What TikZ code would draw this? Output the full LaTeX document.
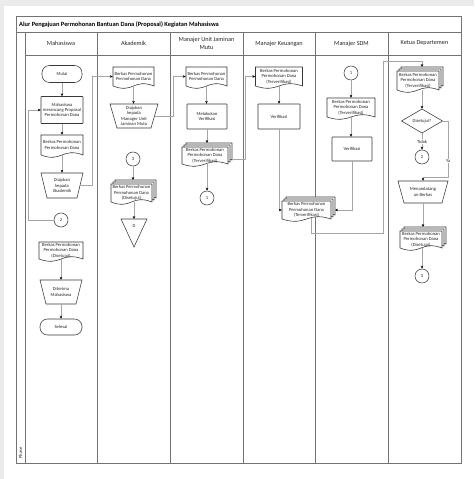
\documentclass[tikz,border=0pt]{standalone}
\usepackage{fontspec}
\setmainfont{Carlito}
\usetikzlibrary{arrows.meta,calc}
\tikzset{
  shp/.style={draw=black!78, line width=0.55pt, fill=white},
  conn/.style={draw=black!35, line width=0.5pt, -{Stealth[length=3pt,width=2.6pt,black]}},
  lane/.style={draw=black!55, line width=0.8pt},
  txt/.style={font=\fontsize{4.6}{5.4}\selectfont, align=center, inner sep=0pt, text=black!85},
  hdr/.style={font=\fontsize{6.2}{8}\selectfont, align=center, inner sep=0pt, text=black!85},
  lbl/.style={txt, fill=white, inner sep=0.6pt},
  termbox/.style={shp, txt, rounded corners=7.5pt},
  circbox/.style={shp, txt, circle, minimum size=14pt},
}
% single document shape
\newcommand\fcdocpath[4]{\draw[shp] ({#1-#3/2},{#2-#4/2}) -- ({#1+#3/2},{#2-#4/2}) -- ({#1+#3/2},{#2+#4/2}) .. controls ({#1},{#2+#4/2-8}) and ({#1},{#2+#4/2+8}) .. ({#1-#3/2},{#2+#4/2}) -- cycle;}
% document node: name, cx, cy, w, h, text
\newcommand\fcdoc[6]{\fcdocpath{#2}{#3}{#4}{#5}
  \node[txt, minimum width=#4pt, minimum height=#5pt] (#1) at (#2,#3) {#6};}
% multi document node
\newcommand\fcmdoc[6]{\fcdocpath{#2+4}{#3-4}{#4}{#5}\fcdocpath{#2+2}{#3-2}{#4}{#5}\fcdocpath{#2}{#3}{#4}{#5}
  \node[txt, minimum width=#4pt, minimum height=#5pt] (#1) at (#2,#3) {#6};
  \coordinate (#1-top) at ({#2+4},{#3-#5/2-4});
  \coordinate (#1-right) at ({#2+#4/2+4},{#3});}
% process box: name, cx, cy, w, h, text
\newcommand\fcproc[6]{\draw[shp, rounded corners=0.4pt] ({#2-#4/2},{#3-#5/2}) -- ({#2+#4/2},{#3-#5/2}) -- ({#2+#4/2},{#3+#5/2}) -- ({#2-#4/2},{#3+#5/2}) -- cycle;
  \node[txt, minimum width=#4pt, minimum height=#5pt] (#1) at (#2,#3) {#6};}
% manual operation: name, cx, cy, w, h, inset, text
\newcommand\fcman[7]{\draw[shp] ({#2-#4/2},{#3-#5/2}) -- ({#2+#4/2},{#3-#5/2}) -- ({#2+#4/2-#6},{#3+#5/2}) -- ({#2-#4/2+#6},{#3+#5/2}) -- cycle;
  \node[txt, minimum width=#4pt, minimum height=#5pt] (#1) at (#2,#3) {#7};}
% decision: name, cx, cy, w, h, text
\newcommand\fcdec[6]{\draw[shp] ({#2},{#3-#5/2}) -- ({#2+#4/2},{#3}) -- ({#2},{#3+#5/2}) -- ({#2-#4/2},{#3}) -- cycle;
  \node[txt, minimum width=#4pt, minimum height=#5pt] (#1) at (#2,#3) {#6};}
\begin{document}
\begin{tikzpicture}[x=1pt,y=-1pt]
\useasboundingbox (0,0) rectangle (474,479);
\fill[white] (0,0) rectangle (474,479);
\fill[black!8] (0,0) rectangle (474,6);
\fill[black!8] (0,0) rectangle (4,479);
% frame and lanes
\draw[lane] (16,16) rectangle (461,463);
\draw[lane] (16,32) -- (461,32);
\draw[lane] (25,32) -- (25,463);
\draw[lane] (25,55) -- (461,55);
\foreach \xx in {97,170,243,315,388} \draw[lane] (\xx,32) -- (\xx,463);
\node[font=\bfseries\fontsize{6.4}{7}\selectfont, anchor=west, inner sep=0pt] (title) at (19,24.5) {Alur Pengajuan Permohonan Bantuan Dana (Proposal) Kegiatan Mahasiswa};
\node[hdr] (h1) at (61,43.5) {Mahasiswa};
\node[hdr] (h2) at (133.5,43.5) {Akademik};
\node[hdr] (h3) at (206.5,43.5) {Manajer Unit Jaminan\\Mutu};
\node[hdr] (h4) at (279,43.5) {Manajer Keuangan};
\node[hdr] (h5) at (351.5,43.5) {Manajer SDM};
\node[hdr] (h6) at (424.5,43.5) {Ketua Departemen};
\node[txt, rotate=90] (phase) at (20.5,453) {Phase};

% ---------- Mahasiswa
\node[termbox, minimum width=40pt, minimum height=17pt] (mulai) at (62,74) {Mulai};
\fcproc{p1}{62}{110}{42}{27}{Mahasiswa\\merancang Proposal\\Permohonan Dana}
\fcdoc{d1}{62}{145}{42}{20}{Berkas Permohonan\\Permohonan Dana}
\fcman{m1}{62}{185.5}{42}{25}{6}{Diajukan\\kepada\\Akademik}
\node[circbox] (c2a) at (61,220) {2};
\fcdoc{d2}{61}{250.5}{44}{17}{Berkas Permohonan\\Permohonan Dana\\(Disetujui)}
\fcman{m2}{61}{292}{42}{24}{6}{Diterima\\Mahasiswa}
\node[termbox, minimum width=42pt, minimum height=16pt] (selesai) at (61,327) {Selesai};

% ---------- Akademik
\fcdoc{dA1}{133.5}{76.5}{41}{19}{Berkas Permohonan\\Permohonan Dana}
\fcman{mA1}{134}{116}{48}{24}{7}{Diajukan\\kepada\\Manager Unit\\Jaminan Mutu}
\node[circbox] (cA3) at (133,159) {3};
\fcmdoc{mdA}{131.5}{193}{41}{18}{Berkas Permohonan\\Permohonan Dana\\(Disetujui)}
\draw[shp] (121,219) -- (147,219) -- (134,247) -- cycle;
\node[txt] (tA) at (134,226) {D};
\coordinate (tAtop) at (134,219);

% ---------- Manajer Unit Jaminan Mutu
\fcdoc{dMU}{206.5}{76.5}{41}{19}{Berkas Permohonan\\Permohonan Dana}
\fcproc{pMU}{207}{116.5}{40}{25}{Melakukan\\Verifikasi}
\fcmdoc{mdMU}{205}{155.5}{46}{17}{Berkas Permohonan\\Permohonan Dana\\(Terverifikasi)}
\node[circbox] (cMU1) at (207,198) {1};

% ---------- Manajer Keuangan
\fcdoc{dK1}{279}{76.5}{47}{19}{Berkas Permohonan\\Permohonan Dana\\(Terverifikasi)}
\fcproc{pK}{279}{116.5}{42}{25}{Verifikasi}
\fcmdoc{mdK}{306.5}{210}{49}{18}{Berkas Permohonan\\Permohonan Dana\\(Terverifikasi)}

% ---------- Manajer SDM
\node[circbox] (cS1) at (351,73) {1};
\fcdoc{dS}{351}{107.5}{48}{19}{Berkas Permohonan\\Permohonan Dana\\(Terverifikasi)}
\fcproc{pS}{352}{149}{40}{24}{Verifikasi}

% ---------- Ketua Departemen
\fcmdoc{mdT1}{418}{80.5}{42}{19}{Berkas Permohonan\\Permohonan Dana\\(Terverifikasi)}
\fcdec{dec}{422}{121}{41}{24}{Disetujui?}
\node[circbox] (cT2) at (422,157) {2};
\fcman{mT}{423}{192}{50}{22}{6}{Menandatang\\an Berkas}
\fcmdoc{mdT2}{421}{239.5}{42}{17}{Berkas Permohonan\\Permohonan Dana\\(Disetujui)}
\node[circbox] (cT3) at (422,276) {3};

% ---------- connectors
\draw[conn] (mulai) -- (p1);
\draw[conn] (p1) -- (d1.north);
\draw[conn] (d1.south) -- (m1.north);
\draw[conn] (c2a.west) -- ++(-25,0) |- (p1.west);
\draw[conn] ([xshift=-3pt]m1.east) -- ++(12,0) |- (dA1.west);
\draw[conn] (d2.south) -- (m2.north);
\draw[conn] (m2.south) -- (selesai.north);

\draw[conn] (dA1.south) -- (dA1.south |- mA1.north);
\draw[conn] ([xshift=-3.5pt]mA1.east) -- ++(18.5,0) |- (dMU.west);
\draw[conn] (cA3.south) -- (cA3.south |- mdA-top);
\draw[conn] (tAtop |- mdA.south) -- (tAtop);

\draw[conn] (dMU.south) -- (dMU.south |- pMU.north);
\draw[conn] (pMU.south) -- (pMU.south |- mdMU-top);
\draw[conn] (cMU1.north |- mdMU.south) -- (cMU1.north);
\draw[conn] ([yshift=-4pt]mdMU-right) -- ++(13,0) |- (dK1.west);

\draw[conn] (dK1.south) -- (pK.north);
\draw[conn] (pK.south) |- (mdK.west);

\draw[conn] (cS1.south) -- (cS1.south |- dS.north);
\draw[conn] (dS.south) -- (dS.south |- pS.north);
\draw[conn] (pS.south) |- (mdK-right);

\coordinate (kk1) at (383,233);
\coordinate (kk2) at (383,61);
\draw[conn] ($(mdK.south)+(5,-1)$) |- (kk1) -- (kk2) -| (mdT1-top);

\draw[conn] (dec.north |- mdT1.south) -- (dec.north);
\draw[conn] (dec.south) -- node[lbl] {Tidak} (cT2.north);
\draw[conn] (dec.east) -- ++(5.5,0) -- node[lbl, pos=0.72] {Ya} ++(0,56) -| (mT.north);
\draw[conn] (mT.south) -- (mT.south |- mdT2-top);
\draw[conn] (cT3.north |- mdT2.south) -- (cT3.north);
\end{tikzpicture}
\end{document}
